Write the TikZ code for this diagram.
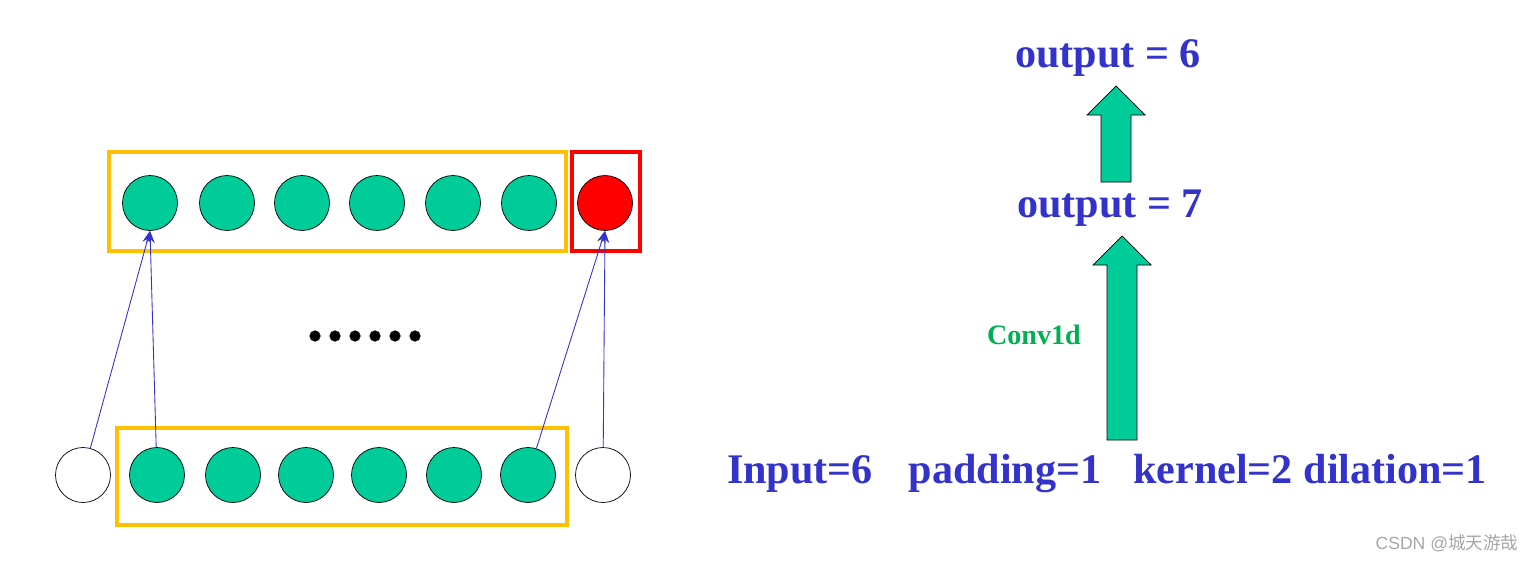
\documentclass[tikz,border=0pt]{standalone}
\usetikzlibrary{arrows.meta}
\usepackage{fontspec}
\setmainfont{Liberation Serif}
\newfontfamily\cjk{Noto Sans CJK SC}
\newfontfamily\sans{Liberation Sans}
\begin{document}
\begin{tikzpicture}[x=0.02cm,y=-0.02cm,
  gc/.style={circle,draw=black,fill=gcol,minimum size=1.1cm,inner sep=0pt},
  wc/.style={circle,draw=black,fill=white,minimum size=1.1cm,inner sep=0pt},
  rc/.style={circle,draw=black,fill=red,minimum size=1.1cm,inner sep=0pt},
  ybox/.style={draw=ycol,line width=2.2pt},
  rbox/.style={draw=red,line width=2.2pt},
  link/.style={draw=lcol,line width=0.5pt,-{Stealth[length=7pt,width=5pt]}},
  big/.style={font=\fontsize{24}{28}\selectfont\bfseries,text=bcol},
  fat/.style={draw=black,fill=gcol,line width=0.4pt}]
\definecolor{gcol}{HTML}{00CC99}
\definecolor{bcol}{HTML}{3333CC}
\definecolor{ycol}{HTML}{FFC000}
\definecolor{lcol}{HTML}{3333CC}
\definecolor{cgreen}{HTML}{00B050}
\useasboundingbox (0,0) rectangle (1531,561);
\draw[ybox] (109,152) rectangle (566,251);
\draw[rbox] (572,152) rectangle (640,251);
\draw[ybox] (117,428) rectangle (567,525);
\foreach \x/\n in {150/t1,227/t2,302/t3,377/t4,453/t5,529/t6} \node[gc] (\n) at (\x,203) {};
\node[rc] (t7) at (605,203) {};
\node[wc] (b0) at (83,475) {};
\foreach \x/\n in {157/b1,233/b2,306/b3,379/b4,454/b5,528/b6} \node[gc] (\n) at (\x,475) {};
\node[wc] (b7) at (603,475) {};
\foreach \i in {0,...,5} \fill (315+\i*20,336) circle (3.2pt);
\draw[link] (b0) -- (t1.south);
\draw[link] (b1) -- (t1.south);
\draw[link] (b6) -- (t7.south);
\draw[link] (b7) -- (t7.south);
\draw[fat] (1101,182) -- (1101,115) -- (1087,115) -- (1116,86) -- (1145,115) -- (1131,115) -- (1131,182) -- cycle;
\draw[fat] (1107,440) -- (1107,265) -- (1093,265) -- (1122,236) -- (1151,265) -- (1137,265) -- (1137,440) -- cycle;
\node[big] (o6) at (1108,58) {output = 6};
\node[big] (o7) at (1110,208) {output = 7};
\node[big] (inp) at (1107,474) {Input=6\hspace{0.6em} padding=1\hspace{0.5em} kernel=2 dilation=1};
\node[font=\fontsize{16}{18}\selectfont\bfseries,text=cgreen] (cv) at (1034,335) {Conv1d};
\node[font=\fontsize{10}{12}\selectfont,text=gray!70] (wm) at (1447,543) {\sans CSDN @\cjk 城天游哉};
\end{tikzpicture}
\end{document}
